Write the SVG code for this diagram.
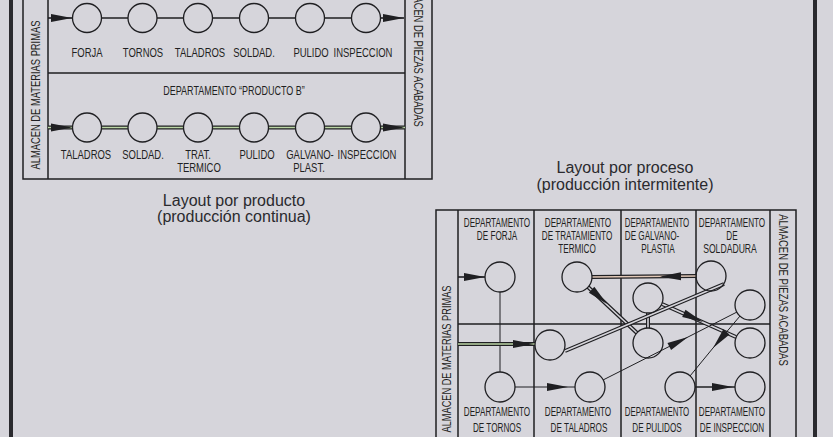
<svg xmlns="http://www.w3.org/2000/svg" width="833" height="437" viewBox="0 0 833 437">
<style>
.t{font-family:"Liberation Sans",Arial,sans-serif;font-size:12px;fill:#1f1f22;text-anchor:middle}
.cap{font-size:16px;fill:#2a2a2e}
.fr{stroke:#1f1f22;stroke-width:1.5;fill:none}
.bar{stroke:#2a2a2e;stroke-width:4;fill:none}
.nd{fill:none;stroke:#1f1f22;stroke-width:1.3}
.ln{stroke:#1f1f22;stroke-width:1.6;fill:none}
.thin{stroke:#1f1f22;stroke-width:1;fill:none}
.dbo{stroke:#1f1f22;stroke-width:4;fill:none}
.dbi{stroke:#d6d5db;stroke-width:1.6;fill:none}
.gr{stroke:#bcd6a6}
.pk{stroke:#e2c9b8}
.mk{stroke:none;fill:none}
</style>
<defs>
<marker id="ah" markerUnits="userSpaceOnUse" markerWidth="24" markerHeight="10" refX="21" refY="4" orient="auto" overflow="visible">
<path d="M0,0 L21,4 L0,8 Z" fill="#1f1f22"/>
</marker>
</defs>
<rect width="833" height="437" fill="#d6d5db"/>

<g id="frames">
<line class="bar" x1="11" y1="0" x2="11" y2="437"/>
<line class="bar" x1="815" y1="0" x2="815" y2="437"/>
<path class="fr" d="M23,0 V179 H432 V0 M48,0 V179 M405,0 V179 M48,73 H405"/>
<path class="fr" d="M436,437 V210 H796 V437 M458,210 V437 M534,210 V437 M621,210 V437 M696,210 V437 M770,210 V437 M458,324 H770"/>
</g>

<g id="texts">
<text class="t" transform="translate(40,95) rotate(-90) scale(0.78,1)">ALMACEN DE MATERIAS PRIMAS</text>
<text class="t" transform="translate(414,52) rotate(90) scale(0.78,1)">ALMACEN DE PIEZAS ACABADAS</text>
<text class="t" transform="translate(234,95) scale(0.75,1)">DEPARTAMENTO “PRODUCTO B”</text>
<text class="t cap" x="234" y="206">Layout por producto</text>
<text class="t cap" x="234" y="222">(producción continua)</text>
<text class="t cap" x="625" y="173">Layout por proceso</text>
<text class="t cap" x="625" y="190">(producción intermitente)</text>
<text class="t" transform="translate(451,359) rotate(-90) scale(0.77,1)">ALMACEN DE MATERIAS PRIMAS</text>
<text class="t" transform="translate(779,290) rotate(90) scale(0.79,1)">ALMACEN DE PIEZAS ACABADAS</text>
</g>

<g id="connectors">
<path class="ln" d="M48,18 H72" marker-end="url(#ah)"/>
<path class="ln" d="M101.5,18 H128 M157,18 H183.5 M212.5,18 H239.5 M268.5,18 H295.5 M324.5,18 H351.5"/>
<path class="ln" d="M380.5,18 H404" marker-end="url(#ah)"/>
<path class="dbo" d="M48,127.5 H72.5 M101.5,127.5 H128 M157,127.5 H183.5 M212.5,127.5 H239.5 M268.5,127.5 H295.5 M324.5,127.5 H351.5 M380.5,127.5 H405"/>
<path class="dbi gr" d="M48,127.5 H72.5 M101.5,127.5 H128 M157,127.5 H183.5 M212.5,127.5 H239.5 M268.5,127.5 H295.5 M324.5,127.5 H351.5 M380.5,127.5 H405"/>
<path class="mk" d="M48,127.5 H72" marker-end="url(#ah)"/>
<path class="mk" d="M380,127.5 H404" marker-end="url(#ah)"/>

<path class="ln" d="M458,277 H485" marker-end="url(#ah)"/>
<path class="thin" d="M500,292 V372"/>
<path class="dbo" d="M458,344 H535"/><path class="dbi gr" d="M458,344 H535"/>
<path class="mk" d="M458,344 H534" marker-end="url(#ah)"/>
<path class="thin" d="M515,387 L568,387 L575,387" marker-mid="url(#ah)"/>
<path class="dbo" d="M696,276 L592,277"/><path class="dbi pk" d="M696,276 L592,277"/>
<path class="mk" d="M696,276 L660,276.5 L592,277" marker-mid="url(#ah)"/>
<path class="dbo" d="M588,287 L637,333"/><path class="dbi" d="M588,287 L637,333"/>
<path class="mk" d="M588,287 L607,304 L637,333" marker-mid="url(#ah)"/>
<path class="dbo" d="M648,313 V328"/><path class="dbi" d="M648,313 V328"/>
<path class="dbo" d="M662,304 L736,337"/><path class="dbi" d="M662,304 L736,337"/>
<path class="mk" d="M662,304 L703,322 L736,337" marker-mid="url(#ah)"/>
<path class="thin" d="M603,380 L688,337 L737,312" marker-mid="url(#ah)"/>
<path class="thin" d="M740,316 L713,348 L690,376" marker-mid="url(#ah)"/>
<path class="ln" d="M695,387 L733,387 L735,387" marker-mid="url(#ah)"/>
<path class="dbo" d="M565,351 L724,284"/><path class="dbi" d="M565,351 L724,284"/>
</g>

<g id="p-forja"><circle class="nd" cx="87" cy="18" r="14.5"/><text class="t" transform="translate(87,57) scale(0.79,1)">FORJA</text></g>
<g id="p-tornos"><circle class="nd" cx="142.5" cy="18" r="14.5"/><text class="t" transform="translate(143,57) scale(0.79,1)">TORNOS</text></g>
<g id="p-taladros"><circle class="nd" cx="198" cy="18" r="14.5"/><text class="t" transform="translate(200,57) scale(0.79,1)">TALADROS</text></g>
<g id="p-soldad"><circle class="nd" cx="254" cy="18" r="14.5"/><text class="t" transform="translate(254,57) scale(0.79,1)">SOLDAD.</text></g>
<g id="p-pulido"><circle class="nd" cx="310" cy="18" r="14.5"/><text class="t" transform="translate(311,57) scale(0.79,1)">PULIDO</text></g>
<g id="p-inspeccion"><circle class="nd" cx="366" cy="18" r="14.5"/><text class="t" transform="translate(363,57) scale(0.79,1)">INSPECCION</text></g>

<g id="b-taladros"><circle class="nd" cx="87" cy="127.5" r="14.5"/><text class="t" transform="translate(86,159) scale(0.79,1)">TALADROS</text></g>
<g id="b-soldad"><circle class="nd" cx="142.5" cy="127.5" r="14.5"/><text class="t" transform="translate(143,159) scale(0.79,1)">SOLDAD.</text></g>
<g id="b-trat"><circle class="nd" cx="198" cy="127.5" r="14.5"/><text class="t" transform="translate(198,159) scale(0.79,1)">TRAT.</text><text class="t" transform="translate(199,172) scale(0.79,1)">TERMICO</text></g>
<g id="b-pulido"><circle class="nd" cx="254" cy="127.5" r="14.5"/><text class="t" transform="translate(257,159) scale(0.79,1)">PULIDO</text></g>
<g id="b-galvano"><circle class="nd" cx="310" cy="127.5" r="14.5"/><text class="t" transform="translate(310,159) scale(0.79,1)">GALVANO-</text><text class="t" transform="translate(309,172) scale(0.79,1)">PLAST.</text></g>
<g id="b-inspeccion"><circle class="nd" cx="366" cy="127.5" r="14.5"/><text class="t" transform="translate(367,159) scale(0.79,1)">INSPECCION</text></g>

<g id="d-forja"><text class="t" transform="translate(497,227) scale(0.68,1)">DEPARTAMENTO</text><text class="t" transform="translate(497,240) scale(0.68,1)">DE FORJA</text><circle class="nd" cx="500" cy="277" r="15"/></g>
<g id="d-termico"><text class="t" transform="translate(578,227) scale(0.68,1)">DEPARTAMENTO</text><text class="t" transform="translate(577,240) scale(0.68,1)">DE TRATAMIENTO</text><text class="t" transform="translate(577,253) scale(0.68,1)">TERMICO</text><circle class="nd" cx="577" cy="277" r="15"/></g>
<g id="d-galvano"><text class="t" transform="translate(657,227) scale(0.66,1)">DEPARTAMENTO</text><text class="t" transform="translate(652,240) scale(0.68,1)">DE GALVANO-</text><text class="t" transform="translate(658,253) scale(0.68,1)">PLASTIA</text><circle class="nd" cx="648" cy="298" r="15"/><circle class="nd" cx="648" cy="343" r="15"/></g>
<g id="d-soldadura"><text class="t" transform="translate(732,227) scale(0.68,1)">DEPARTAMENTO</text><text class="t" transform="translate(732,240) scale(0.68,1)">DE</text><text class="t" transform="translate(730,253) scale(0.72,1)">SOLDADURA</text><circle class="nd" cx="711" cy="276" r="15"/><circle class="nd" cx="750" cy="305" r="15"/><circle class="nd" cx="750" cy="343" r="15"/></g>
<g id="d-tornos"><circle class="nd" cx="500" cy="387" r="15"/><text class="t" transform="translate(497,416) scale(0.68,1)">DEPARTAMENTO</text><text class="t" transform="translate(497,432) scale(0.68,1)">DE TORNOS</text></g>
<g id="d-taladros"><circle class="nd" cx="550" cy="345" r="15"/><circle class="nd" cx="590" cy="387" r="15"/><text class="t" transform="translate(578,416) scale(0.68,1)">DEPARTAMENTO</text><text class="t" transform="translate(579,432) scale(0.68,1)">DE TALADROS</text></g>
<g id="d-pulidos"><circle class="nd" cx="680" cy="387" r="15"/><text class="t" transform="translate(657,416) scale(0.66,1)">DEPARTAMENTO</text><text class="t" transform="translate(657,432) scale(0.68,1)">DE PULIDOS</text></g>
<g id="d-inspeccion"><circle class="nd" cx="750" cy="387" r="15"/><text class="t" transform="translate(732,416) scale(0.68,1)">DEPARTAMENTO</text><text class="t" transform="translate(732,432) scale(0.68,1)">DE INSPECCION</text></g>
</svg>
